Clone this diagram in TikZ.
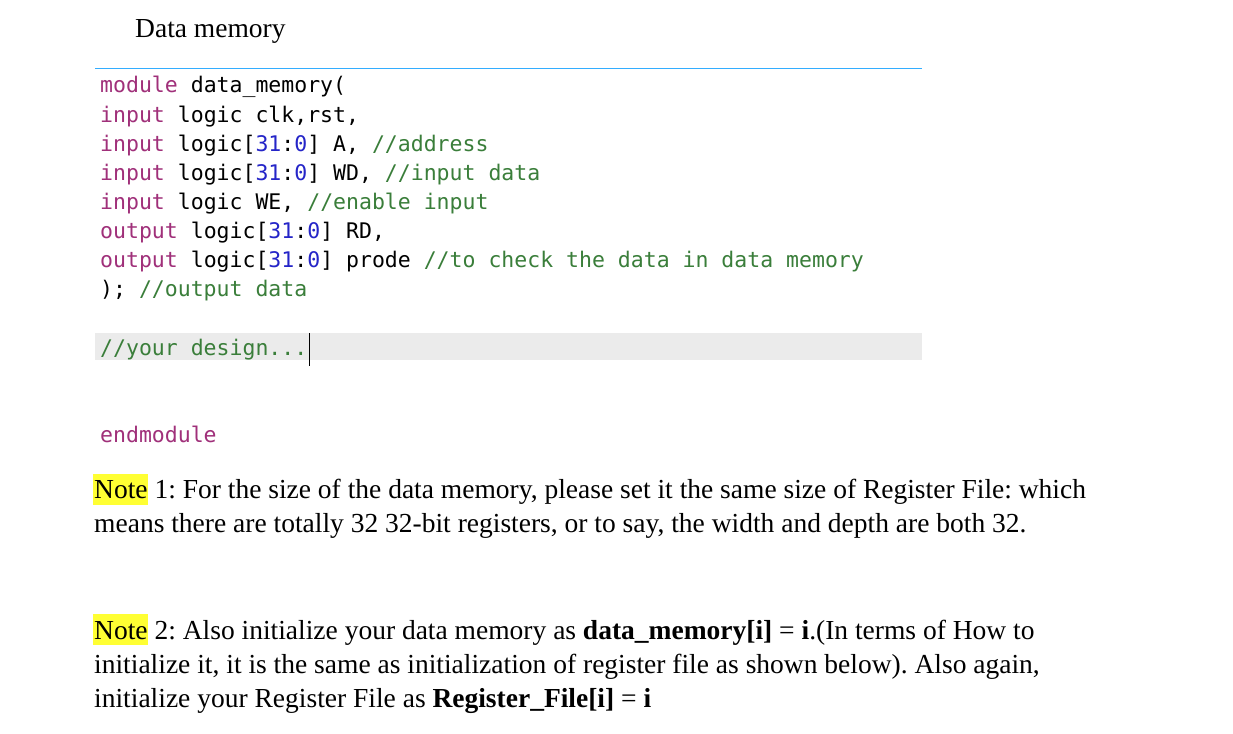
\documentclass[tikz,border=0pt]{standalone}
\usepackage{fontspec}
\setmainfont{Liberation Serif}
\setmonofont{DejaVu Sans Mono}
\definecolor{kw}{HTML}{A0307A}
\definecolor{num}{HTML}{2525C8}
\definecolor{cm}{HTML}{3A7E3A}
\definecolor{hl}{HTML}{FFFF33}
\newcommand{\K}[1]{\textcolor{kw}{#1}}
\newcommand{\N}[1]{\textcolor{num}{#1}}
\newcommand{\C}[1]{\textcolor{cm}{#1}}
\frenchspacing
\begin{document}
\begin{tikzpicture}[x=1pt,y=-1pt,
  code/.style={anchor=base west,inner sep=0pt,font=\ttfamily\fontsize{21.5}{21.5}\selectfont},
  txt/.style={anchor=base west,inner sep=0pt,font=\fontsize{27.5}{27.5}\selectfont}]
\useasboundingbox[fill=white] (0,0) rectangle (1233,733);
\node[txt] (title) at (135,38) {Data memory};
\draw[color=blue!40!cyan!80!white,line width=1pt] (95,69) -- (922,69);
\node[code] (l1) at (100,93) {\K{module} data\_memory(};
\node[code] (l2) at (100,122) {\K{input} logic clk,rst,};
\node[code] (l3) at (100,151) {\K{input} logic[\N{31}:\N{0}] A, \C{//address}};
\node[code] (l4) at (100,180) {\K{input} logic[\N{31}:\N{0}] WD, \C{//input data}};
\node[code] (l5) at (100,209) {\K{input} logic WE, \C{//enable input}};
\node[code] (l6) at (100,238) {\K{output} logic[\N{31}:\N{0}] RD,};
\node[code] (l7) at (100,267) {\K{output} logic[\N{31}:\N{0}] prode \C{//to check the data in data memory}};
\node[code] (l8) at (100,296) {); \C{//output data}};
\fill[black!8] (95,333) rectangle (922,360);
\node[code] (l9) at (100,355) {\C{//your design...}};
\draw[line width=1.5pt] ([xshift=2pt]l9.east |- 0,333) -- ([xshift=2pt]l9.east |- 0,366);
\node[code] (l10) at (100,442) {\K{endmodule}};
\fill[hl] (93,474) rectangle (148,505);
\node[txt] (n1a) at (94,498) {Note 1: For the size of the data memory, please set it the same size of Register File: which};
\node[txt] (n1b) at (94,532) {means there are totally 32 32-bit registers, or to say, the width and depth are both 32.};
\fill[hl] (93,614) rectangle (148,645);
\node[txt] (n2a) at (94,639) {Note 2: Also initialize your data memory as \textbf{data\_memory[i]} = \textbf{i}.(In terms of How to};
\node[txt] (n2b) at (94,673) {initialize it, it is the same as initialization of register file as shown below). Also again,};
\node[txt] (n2c) at (94,707) {initialize your Register File as \textbf{Register\_File[i]} = \textbf{i}};
\end{tikzpicture}
\end{document}
